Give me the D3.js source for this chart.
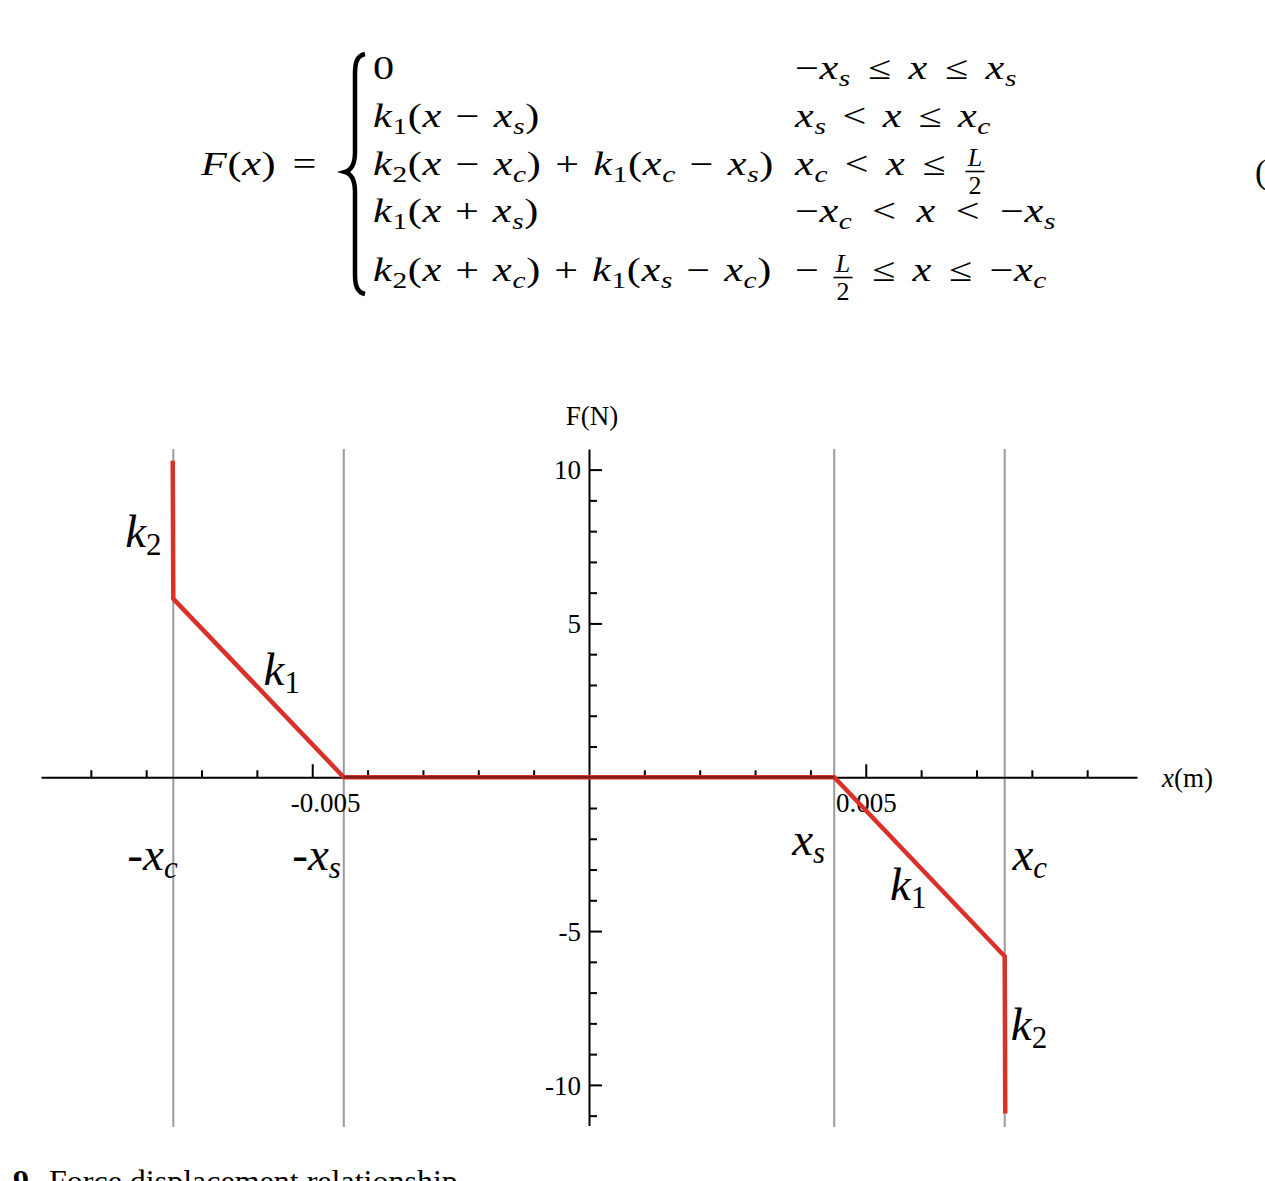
<!DOCTYPE html>
<html>
<head>
<meta charset="utf-8">
<script src="https://cdn.jsdelivr.net/npm/d3@7"></script>
<style>
  html, body { margin: 0; padding: 0; background: #fff; overflow: hidden; }
  svg { display: block; font-family: "Liberation Serif", "Times New Roman", serif; }
  text { white-space: pre; font-family: "Liberation Serif", "Times New Roman", serif; }
</style>
</head>
<body>
<svg id="chart" width="1265" height="1181"></svg>
<script>
// piecewise force curve (x in m, F in N)
const curveX = [-0.00752, -0.00751, -0.00443, 0.00443, 0.00751, 0.00752];
const curveF = [10.29, 5.8, 0, 0, -5.82, -10.93];

// grid lines at -xc, -xs, xs, xc
const gridX = [-0.00751, -0.00443, 0.00443, 0.00751];

const xMajor = [-0.005, 0.005];
const xMinor = [-0.009, -0.008, -0.007, -0.006, -0.004, -0.003, -0.002, -0.001,
                0.001, 0.002, 0.003, 0.004, 0.006, 0.007, 0.008, 0.009];
const xTickLabels = ["-0.005", "0.005"];
const yMajor = [-10, -5, 5, 10];
const yMinor = [-11, -9, -8, -7, -6, -4, -3, -2, -1, 1, 2, 3, 4, 6, 7, 8, 9];
const yTickLabels = ["-10", "-5", "5", "10"];

// equation text ("_" marks a subscript, letters go italic)
const eqLeft = ["0", "k_1(x − x_s)", "k_2(x − x_c) + k_1(x_c − x_s)",
                "k_1(x + x_s)", "k_2(x + x_c) + k_1(x_s − x_c)"];
const eqRight = ["−x_s ≤ x ≤ x_s", "x_s < x ≤ x_c", "x_c < x ≤",
                 "−x_c < x < −x_s", "≤ x ≤ −x_c"];

// in-plot annotations (placed in data units)
const notes = [
  {t: "k_2", x: -0.00838, f: 7.48},
  {t: "k_1", x: -0.00588, f: 3.0},
  {t: "-x_c", x: -0.00834, f: -3.02},
  {t: "-x_s", x: -0.00536, f: -3.02},
  {t: "x_s", x: 0.00367, f: -2.53},
  {t: "x_c", x: 0.00765, f: -3.02},
  {t: "k_1", x: 0.00544, f: -3.99},
  {t: "k_2", x: 0.00762, f: -8.53}
];

const svg = d3.select("#chart");

const x = d3.scaleLinear([-0.0099, 0.0099], [41, 1137]);
const y = d3.scaleLinear([-11.32, 10.67], [1125.5, 449]);

// writes a little math string as tspans
function rich(textSel, str, size, subSize, subDrop, italicRe = /[A-Za-z]/) {
  let cur = 0;
  for (let i = 0; i < str.length; i++) {
    let ch = str[i], sub = false;
    if (ch === "_") { sub = true; ch = str[++i]; }
    const want = sub ? subDrop : 0;
    const ts = textSel.append("tspan").text(ch)
      .attr("font-size", sub ? subSize : size);
    if (want !== cur) { ts.attr("dy", want - cur); cur = want; }
    if (italicRe.test(ch)) ts.attr("font-style", "italic");
  }
  return textSel;
}

// stretch (or squeeze) the gaps at the spaces so the row spans the measured width
function fitWidth(textSel, target) {
  textSel.style("letter-spacing", "0.5px");
  if (!target) return;
  const spaces = textSel.selectAll("tspan").filter(function () { return this.textContent === " "; });
  if (!spaces.size()) return;
  const len = textSel.node().getComputedTextLength();
  const extra = Math.max(-4, (target - len) / spaces.size());
  spaces.attr("dx", extra / 2);
  spaces.each(function () {
    const nxt = this.nextSibling;
    if (nxt) d3.select(nxt).attr("dx", extra / 2);
  });
}

// ---------- equation ----------
// the typeset equation is wider than plain Times, so stretch it sideways
const SX = 1.28;
const FS = 33, SUB = 23;
const eq = svg.append("g").attr("fill", "#000");
const rowBase = [79, 127, 175, 222, 281];
const leftW = [0, 167, 401, 166, 399];
const rightX = [795, 795, 795, 795, 872];
const rightW = [222, 196, 151, 261, 175];

function eqText(px, py, str, target) {
  const t = eq.append("text")
    .attr("transform", `translate(${px},${py}) scale(${SX},1)`)
    .attr("font-size", FS);
  rich(t, str, FS, SUB, 7);
  fitWidth(t, target / SX);
  return t;
}

eqText(201, 175, "F(x) =", 116);
eqLeft.forEach((s, i) => eqText(373, rowBase[i], s, leftW[i]));
eqRight.forEach((s, i) => eqText(rightX[i], rowBase[i], s, rightW[i]));
// minus before the fraction in the last row
eqText(795, rowBase[4], "−", 0);

function fraction(cx, base) {
  eq.append("text").attr("x", cx).attr("y", base - 9).attr("font-size", 26)
    .attr("text-anchor", "middle").attr("font-style", "italic").text("L");
  eq.append("line").attr("x1", cx - 9.5).attr("x2", cx + 9.5)
    .attr("y1", base - 3.5).attr("y2", base - 3.5)
    .attr("stroke", "#000").attr("stroke-width", 1.6);
  eq.append("text").attr("x", cx).attr("y", base + 19).attr("font-size", 26)
    .attr("text-anchor", "middle").text("2");
}
fraction(975, rowBase[2]);
fraction(843, rowBase[4]);

// big left brace
eq.append("path")
  .attr("d", "M365,54 C357,56 355,62 355,74 L355,152 C355,164 352,170 345,172 " +
             "C352,174 355,180 355,192 L355,274 C355,286 357,292 365,294")
  .attr("fill", "none").attr("stroke", "#000").attr("stroke-width", 4.5);

// equation number (cut by the page edge)
eq.append("text").attr("x", 1255).attr("y", 183).attr("font-size", 34).text("(");

// ---------- chart ----------
// grid lines
svg.append("g").selectAll("line").data(gridX).join("line")
  .attr("x1", d => x(d)).attr("x2", d => x(d))
  .attr("y1", 449).attr("y2", 1127)
  .attr("stroke", "#9a9a9a").attr("stroke-width", 2);

// x axis (ticks point up, labels below)
const xAxisMinor = svg.append("g").attr("transform", `translate(0,${y(0)})`)
  .call(d3.axisBottom(x).tickValues(xMinor).tickSize(-7).tickSizeOuter(0).tickFormat(""));
const xAxis = svg.append("g").attr("transform", `translate(0,${y(0)})`)
  .call(d3.axisBottom(x).tickValues(xMajor).tickSize(-13).tickSizeOuter(0)
    .tickFormat((d, i) => xTickLabels[i]));
xAxisMinor.select(".domain").remove();
xAxis.selectAll("text").attr("y", 34.5).attr("dy", null)
  .attr("dx", d => d < 0 ? 13 : 0);

// y axis (ticks point right, labels left)
const yAxisMinor = svg.append("g").attr("transform", `translate(${x(0)},0)`)
  .call(d3.axisLeft(y).tickValues(yMinor).tickSize(-8).tickSizeOuter(0).tickFormat(""));
const yAxis = svg.append("g").attr("transform", `translate(${x(0)},0)`)
  .call(d3.axisLeft(y).tickValues(yMajor).tickSize(-13).tickSizeOuter(0)
    .tickFormat(d => yTickLabels[yMajor.indexOf(d)]));
yAxisMinor.select(".domain").remove();
yAxis.selectAll("text").attr("x", -8).attr("dy", "0.34em");

[xAxis, xAxisMinor, yAxis, yAxisMinor].forEach(g => {
  g.attr("font-family", null).attr("font-size", null);
  g.selectAll("text").attr("font-size", 27).attr("fill", "#000");
  g.selectAll("line").attr("stroke", "#000").attr("stroke-width", 2);
  g.selectAll(".domain").attr("stroke", "#000").attr("stroke-width", 2);
});

// axis labels
svg.append("text").attr("x", 592).attr("y", 425).attr("font-size", 27)
  .attr("text-anchor", "middle").text("F(N)");
svg.append("text").attr("x", 1162).attr("y", 787).attr("font-size", 27)
  .call(t => rich(t, "x(m)", 27, 18, 5, /x/));

// force curve
const pts = curveX.map((d, i) => [d, curveF[i]]);
svg.append("path").datum(pts)
  .attr("d", d3.line().x(d => x(d[0])).y(d => y(d[1])))
  .attr("fill", "none").attr("stroke", "#d9302a").attr("stroke-width", 4.5)
  .attr("stroke-linejoin", "miter");

// axis shows faintly through the flat part of the curve
svg.append("line")
  .attr("x1", x(curveX[2])).attr("x2", x(curveX[3]))
  .attr("y1", y(0)).attr("y2", y(0))
  .attr("stroke", "#000").attr("stroke-opacity", 0.4).attr("stroke-width", 2.5);

// annotations
notes.forEach(n => {
  const t = svg.append("text").attr("x", x(n.x)).attr("y", y(n.f)).attr("font-size", 47);
  rich(t, n.t, 47, 31, 8);
});

// caption, mostly below the page edge
svg.append("text").attr("x", 37).attr("y", 1192).attr("font-size", 32)
  .attr("text-anchor", "end").attr("font-weight", "bold").text("Fig. 9.");
svg.append("text").attr("x", 49).attr("y", 1192).attr("font-size", 32)
  .text("Force displacement relationship");
</script>
</body>
</html>
